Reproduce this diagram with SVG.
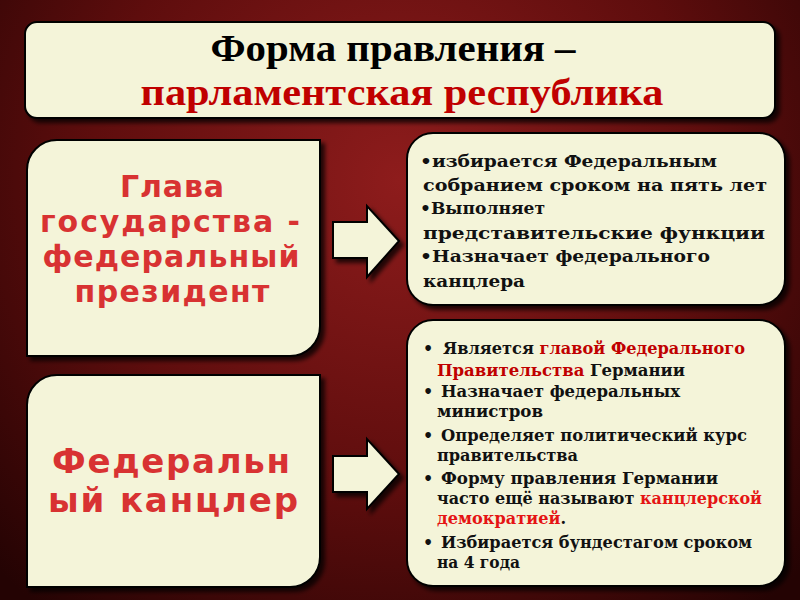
<svg xmlns="http://www.w3.org/2000/svg" width="800" height="600" viewBox="0 0 800 600">
<defs>
<radialGradient id="bg" cx="400" cy="180" r="560" gradientUnits="userSpaceOnUse">
<stop offset="0" stop-color="#8e1c1c"/>
<stop offset="0.55" stop-color="#5e0d0d"/>
<stop offset="1" stop-color="#240303"/>
</radialGradient>
<filter id="sh" x="-10%" y="-10%" width="125%" height="125%">
<feDropShadow dx="4" dy="4" stdDeviation="2" flood-color="#000" flood-opacity="0.75"/>
</filter>
</defs>
<style>
.box{fill:#f4f4d9;stroke:#000;stroke-width:2;filter:url(#sh)}
.title{font-family:"Liberation Serif",serif;font-weight:bold;font-size:38px;text-anchor:middle}
.lbl{font-family:"DejaVu Sans",sans-serif;font-weight:bold;fill:#d83232;text-anchor:middle}
.txt{font-family:"DejaVu Serif",serif;font-weight:bold;font-size:16px;fill:#111}
.dr{fill:#c00000}
.br{fill:#e51414}
</style>
<rect width="800" height="600" fill="url(#bg)"/>

<g id="title">
<rect class="box" x="25" y="22" width="750" height="96" rx="12"/>
<text class="title" x="393" y="61" fill="#000" textLength="365" lengthAdjust="spacingAndGlyphs">Форма правления –</text>
<text class="title" x="402" y="105" fill="#c00000" textLength="523" lengthAdjust="spacingAndGlyphs">парламентская республика</text>
</g>

<g id="president">
<path class="box" d="M57,140 H320 V326 A30,30 0 0 1 290,356 H27 V170 A30,30 0 0 1 57,140 Z"/>
<text class="lbl" font-size="30" x="172" y="197" textLength="104">Глава</text>
<text class="lbl" font-size="30" x="170" y="232" textLength="260">государства -</text>
<text class="lbl" font-size="30" x="171" y="267" textLength="257">федеральный</text>
<text class="lbl" font-size="30" x="172" y="302" textLength="195">президент</text>
</g>

<g id="chancellor">
<path class="box" d="M57,375 H320 V557 A30,30 0 0 1 290,587 H27 V405 A30,30 0 0 1 57,375 Z"/>
<text class="lbl" font-size="34" x="171" y="473" textLength="238">Федеральн</text>
<text class="lbl" font-size="34" x="173" y="512" textLength="250">ый канцлер</text>
</g>

<g id="president-info">
<rect class="box" x="407" y="133" width="378" height="172" rx="26"/>
<text class="txt" x="420" y="167" font-size="17" textLength="297" lengthAdjust="spacingAndGlyphs">•избирается Федеральным</text>
<text class="txt" x="423" y="191" font-size="17" textLength="344" lengthAdjust="spacingAndGlyphs">собранием сроком на пять лет</text>
<text class="txt" x="420" y="214" font-size="17" textLength="125" lengthAdjust="spacingAndGlyphs">•Выполняет</text>
<text class="txt" x="423" y="239" font-size="17" textLength="342" lengthAdjust="spacingAndGlyphs">представительские функции</text>
<text class="txt" x="420" y="262" font-size="17" textLength="290" lengthAdjust="spacingAndGlyphs">•Назначает федерального</text>
<text class="txt" x="423" y="287" font-size="17" textLength="102" lengthAdjust="spacingAndGlyphs">канцлера</text>
</g>

<g id="chancellor-info">
<rect class="box" x="407" y="320" width="378" height="266" rx="26"/>
<text class="txt" x="423" y="354">•</text>
<text class="txt" x="443" y="354" textLength="302" lengthAdjust="spacingAndGlyphs">Является <tspan class="dr">главой Федерального</tspan></text>
<text class="txt" x="437" y="376" textLength="248" lengthAdjust="spacingAndGlyphs"><tspan class="dr">Правительства</tspan> Германии</text>
<text class="txt" x="423" y="397">•</text>
<text class="txt" x="441" y="397" textLength="239" lengthAdjust="spacingAndGlyphs">Назначает федеральных</text>
<text class="txt" x="437" y="417" textLength="106" lengthAdjust="spacingAndGlyphs">министров</text>
<text class="txt" x="423" y="441">•</text>
<text class="txt" x="441" y="441" textLength="306" lengthAdjust="spacingAndGlyphs">Определяет политический курс</text>
<text class="txt" x="437" y="461" textLength="141" lengthAdjust="spacingAndGlyphs">правительства</text>
<text class="txt" x="423" y="484">•</text>
<text class="txt" x="441" y="484" textLength="277" lengthAdjust="spacingAndGlyphs">Форму правления Германии</text>
<text class="txt" x="437" y="504" textLength="325" lengthAdjust="spacingAndGlyphs">часто ещё называют <tspan class="br">канцлерской</tspan></text>
<text class="txt" x="437" y="524" textLength="129" lengthAdjust="spacingAndGlyphs"><tspan class="br">демократией</tspan>.</text>
<text class="txt" x="423" y="548">•</text>
<text class="txt" x="441" y="548" textLength="311" lengthAdjust="spacingAndGlyphs">Избирается бундестагом сроком</text>
<text class="txt" x="437" y="568" textLength="83" lengthAdjust="spacingAndGlyphs">на 4 года</text>
</g>

<g id="connectors">
<path class="box" d="M333,222 H367 V206 L399,241 L367,277 V258 H333 Z"/>
<path class="box" d="M333,456 H367 V439 L399,474 L367,509 V492 H333 Z"/>
</g>
</svg>
